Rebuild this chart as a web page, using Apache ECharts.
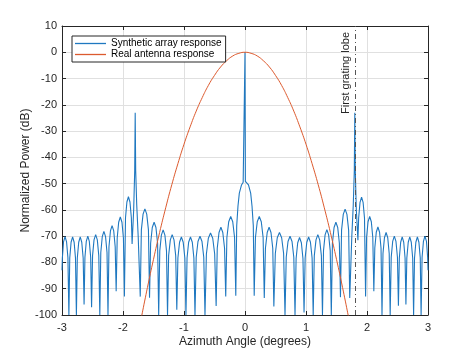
<!DOCTYPE html>
<html><head><meta charset="utf-8">
<script src="https://cdn.jsdelivr.net/npm/echarts/dist/echarts.min.js"></script>
<style>html,body{margin:0;padding:0;background:#fff}#c{width:474px;height:355px}</style>
</head><body><div id="c"></div>
<script>
// ---- Synthetic array response: [angle (deg), power (dB)] ----
const synthLeft = [
 [-3.000,-83],[-2.994,-78.2],[-2.975,-72.2],[-2.950,-70.2],[-2.925,-72.2],[-2.903,-78.2],
 [-2.887,-100],
 [-2.873,-78.3],[-2.851,-72.3],[-2.826,-70.3],[-2.801,-72.3],[-2.779,-78.3],
 [-2.764,-100],
 [-2.749,-78.3],[-2.726,-72.3],[-2.701,-70.3],[-2.676,-72.3],[-2.653,-78.3],
 [-2.638,-96],
 [-2.624,-78],[-2.602,-72],[-2.577,-70],[-2.552,-72],[-2.530,-78],
 [-2.515,-97],
 [-2.499,-77.4],[-2.475,-71.4],[-2.448,-69.4],[-2.421,-71.4],[-2.397,-77.4],
 [-2.380,-100],
 [-2.364,-76.2],[-2.340,-70.2],[-2.313,-68.2],[-2.286,-70.2],[-2.262,-76.2],
 [-2.246,-100],
 [-2.230,-74],[-2.206,-68],[-2.179,-66],[-2.152,-68],[-2.128,-74],
 [-2.112,-91],
 [-2.095,-70.7],[-2.071,-64.7],[-2.044,-62.7],[-2.017,-64.7],[-1.993,-70.7],
 [-1.977,-93],
 [-1.959,-63],[-1.936,-57],[-1.911,-55],[-1.886,-57],[-1.863,-63],
 [-1.851,-73],
 [-1.825,-60],[-1.808,-45],[-1.800,-23],[-1.792,-45],[-1.775,-58],[-1.751,-70],
 [-1.717,-93],
 [-1.699,-67.6],[-1.671,-61.6],[-1.641,-59.6],[-1.611,-61.6],[-1.583,-67.6],
 [-1.565,-93.4],
 [-1.547,-72.7],[-1.520,-66.7],[-1.490,-64.7],[-1.460,-66.7],[-1.433,-72.7],
 [-1.415,-100],
 [-1.397,-75.6],[-1.371,-69.6],[-1.342,-67.6],[-1.313,-69.6],[-1.287,-75.6],
 [-1.270,-100],
 [-1.252,-77.4],[-1.224,-71.4],[-1.194,-69.4],[-1.164,-71.4],[-1.136,-77.4],
 [-1.118,-98],
 [-1.100,-78.3],[-1.073,-72.3],[-1.043,-70.3],[-1.013,-72.3],[-0.986,-78.3],
 [-0.968,-100],
 [-0.950,-78.3],[-0.924,-72.3],[-0.894,-70.3],[-0.864,-72.3],[-0.838,-78.3],
 [-0.820,-100],
 [-0.800,-78],[-0.771,-72],[-0.738,-70],[-0.705,-72],[-0.676,-78],
 [-0.656,-100],
 [-0.633,-76.8],[-0.601,-70.8],[-0.565,-68.8],[-0.529,-70.8],[-0.497,-76.8],
 [-0.473,-96.6],
 [-0.455,-74.6],[-0.426,-68.6],[-0.395,-66.6],[-0.364,-68.6],[-0.335,-74.6],
 [-0.316,-93],
 [-0.297,-70.5],[-0.267,-64.5],[-0.234,-62.5],[-0.201,-64.5],[-0.171,-70.5],
 [-0.151,-92.7]
];
const synthCenter = [
 [-0.136,-66],[-0.115,-58.5],[-0.093,-53.6],[-0.057,-50.5],[-0.030,-49.5],[-0.006,-49.1],
 [0,0],
 [0.006,-49.1],[0.030,-49.5],[0.057,-50.5],[0.093,-53.6],[0.115,-58.5],[0.136,-66]
];
const synthRight = [
 [0.151,-92.7],
 [0.171,-70.5],[0.201,-64.5],[0.234,-62.5],[0.267,-64.5],[0.297,-70.5],
 [0.316,-93.5],
 [0.335,-74.6],[0.364,-68.6],[0.395,-66.6],[0.426,-68.6],[0.455,-74.6],
 [0.473,-96.8],
 [0.497,-76.6],[0.529,-70.6],[0.565,-68.6],[0.601,-70.6],[0.633,-76.6],
 [0.656,-100],
 [0.676,-78],[0.705,-72],[0.738,-70],[0.771,-72],[0.800,-78],
 [0.820,-100],
 [0.838,-78.5],[0.864,-72.5],[0.894,-70.5],[0.924,-72.5],[0.950,-78.5],
 [0.968,-99],
 [0.986,-78.3],[1.013,-72.3],[1.043,-70.3],[1.073,-72.3],[1.100,-78.3],
 [1.118,-100],
 [1.136,-77.4],[1.164,-71.4],[1.194,-69.4],[1.224,-71.4],[1.252,-77.4],
 [1.270,-100],
 [1.287,-75.5],[1.313,-69.5],[1.342,-67.5],[1.371,-69.5],[1.397,-75.5],
 [1.415,-100],
 [1.433,-72.7],[1.460,-66.7],[1.490,-64.7],[1.520,-66.7],[1.547,-72.7],
 [1.565,-93.2],
 [1.583,-67.7],[1.611,-61.7],[1.641,-59.7],[1.671,-61.7],[1.699,-67.7],
 [1.717,-93.5],
 [1.751,-70],[1.775,-58],[1.792,-45],[1.800,-23],[1.808,-45],[1.825,-60],
 [1.851,-71.5],
 [1.863,-63.1],[1.886,-57.1],[1.911,-55.1],[1.936,-57.1],[1.959,-63.1],
 [1.977,-93],
 [1.993,-70.5],[2.017,-64.5],[2.044,-62.5],[2.071,-64.5],[2.095,-70.5],
 [2.112,-91],
 [2.128,-74.5],[2.152,-68.5],[2.179,-66.5],[2.206,-68.5],[2.230,-74.5],
 [2.246,-100],
 [2.262,-76.6],[2.286,-70.6],[2.313,-68.6],[2.340,-70.6],[2.364,-76.6],
 [2.380,-100],
 [2.397,-78],[2.421,-72],[2.448,-70],[2.475,-72],[2.499,-78],
 [2.515,-96.5],
 [2.530,-78.3],[2.552,-72.3],[2.577,-70.3],[2.602,-72.3],[2.624,-78.3],
 [2.638,-96],
 [2.653,-78.3],[2.676,-72.3],[2.701,-70.3],[2.726,-72.3],[2.749,-78.3],
 [2.764,-100],
 [2.779,-78.3],[2.801,-72.3],[2.826,-70.3],[2.851,-72.3],[2.873,-78.3],
 [2.887,-100],
 [2.903,-78],[2.925,-72],[2.950,-70],[2.975,-72],[2.994,-78],[3.000,-83]
];

// ---- Real antenna response ----
const realAngle = [-1.72,-1.6,-1.5,-1.4,-1.3,-1.2,-1.1,-1.0,-0.9,-0.8,-0.7,-0.6,-0.5,-0.4,-0.3,-0.2,-0.1,0,
                   0.1,0.2,0.3,0.4,0.5,0.6,0.7,0.8,0.9,1.0,1.1,1.2,1.3,1.4,1.5,1.6,1.72];
const realPower = [-103.5,-89.6,-78.8,-68.6,-59.2,-50.4,-42.4,-35,-28.4,-22.4,-17.2,-12.6,-8.8,-5.6,-3.2,-1.4,-0.4,0,
                   -0.4,-1.4,-3.2,-5.6,-8.8,-12.6,-17.2,-22.4,-28.4,-35,-42.4,-50.4,-59.2,-68.6,-78.8,-89.6,-103.5];

const seriesNames = ['Synthetic array response','Real antenna response'];
const gratingLobeAngle = 1.8;
const gratingLobeLabel = 'First grating lobe';
const xTitle = 'Azimuth Angle (degrees)';
const yTitle = 'Normalized Power (dB)';

const FONT = 'Liberation Sans, Arial, Helvetica, sans-serif';
const AX = '#262626';
const BLUE = '#1f78c0';
const RED = '#dc5a2e';
const synthData = synthLeft.concat(synthCenter, synthRight);
const realData = realAngle.map((a, i) => [a, realPower[i]]);

const chart = echarts.init(document.getElementById('c'), null, {renderer: 'canvas'});
const xBase = {type:'value', min:-3, max:3, interval:1};
const yBase = {type:'value', min:-100, max:10, interval:10};
chart.setOption({
  animation: false,
  backgroundColor: '#fff',
  grid: {left: 62, right: 46, top: 26, bottom: 40, outerBoundsMode: 'none'},
  legend: {
    orient: 'vertical', left: 72, top: 36,
    itemWidth: 31, itemHeight: 1.3, itemGap: 0,
    icon: 'rect',
    padding: [2, 4, 2, 3],
    backgroundColor: '#fff', borderColor: AX, borderWidth: 1, borderRadius: 0,
    textStyle: {fontSize: 10, fontFamily: FONT, color: '#000', lineHeight: 11},
    data: seriesNames
  },
  xAxis: [
    Object.assign({}, xBase, {
      position: 'bottom',
      name: xTitle, nameLocation: 'middle', nameGap: 21, nameMoveOverlap: false,
      nameTextStyle: {fontSize: 12, fontFamily: FONT, color: AX},
      axisLine: {onZero: false, lineStyle: {color: AX, width: 1}},
      axisTick: {inside: true, length: 4, lineStyle: {color: AX}},
      axisLabel: {fontSize: 11, fontFamily: FONT, color: AX, margin: 7},
      splitLine: {show: true, lineStyle: {color: '#e0e0e0', width: 1}}
    }),
    Object.assign({}, xBase, {
      position: 'top',
      axisLine: {onZero: false, lineStyle: {color: AX, width: 1}},
      axisTick: {inside: true, length: 4, lineStyle: {color: AX}},
      axisLabel: {show: false},
      splitLine: {show: false}
    })
  ],
  yAxis: [
    Object.assign({}, yBase, {
      position: 'left',
      name: yTitle, nameLocation: 'middle', nameGap: 30, nameMoveOverlap: false,
      nameTextStyle: {fontSize: 12, fontFamily: FONT, color: AX},
      axisLine: {show: true, onZero: false, lineStyle: {color: AX, width: 1}},
      axisTick: {show: true, inside: true, length: 4, lineStyle: {color: AX}},
      axisLabel: {fontSize: 11, fontFamily: FONT, color: AX, margin: 5},
      splitLine: {show: true, lineStyle: {color: '#e0e0e0', width: 1}}
    }),
    Object.assign({}, yBase, {
      position: 'right',
      axisLine: {show: true, onZero: false, lineStyle: {color: AX, width: 1}},
      axisTick: {show: true, inside: true, length: 4, lineStyle: {color: AX}},
      axisLabel: {show: false},
      splitLine: {show: false}
    })
  ],
  series: [
    {
      name: seriesNames[0], type: 'line', xAxisIndex: 0, yAxisIndex: 0,
      data: synthData, symbol: 'none', showSymbol: false,
      lineStyle: {color: BLUE, width: 1.1}, itemStyle: {color: BLUE},
      z: 2,
      markLine: {
        silent: true, symbol: ['none', 'none'], animation: false,
        lineStyle: {color: '#555555', type: [5, 3, 1, 3], width: 1},
        label: {show: true, formatter: gratingLobeLabel, position: 'insideEndTop',
                fontSize: 11, fontFamily: FONT, color: AX, distance: [6, 3]},
        data: [{xAxis: gratingLobeAngle}]
      }
    },
    {
      name: seriesNames[1], type: 'line', xAxisIndex: 0, yAxisIndex: 0,
      data: realData, symbol: 'none', showSymbol: false, smooth: true,
      lineStyle: {color: RED, width: 1}, itemStyle: {color: RED},
      z: 3
    }
  ]
});
</script></body></html>
